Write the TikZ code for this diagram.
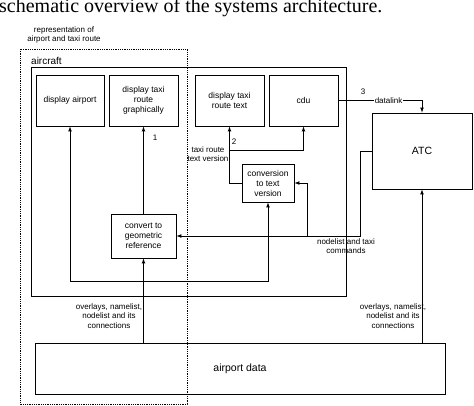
\documentclass[tikz,border=0pt]{standalone}
\usepackage{fontspec}
\setsansfont{Liberation Sans}
\newfontfamily\titlefont{Liberation Serif}
\usetikzlibrary{calc}

\begin{document}
\begin{tikzpicture}[x = 1pt, y = -1pt, font = \sffamily\fontsize{8.5}{10}\selectfont,
	block/.style = {draw, line width = 0.9pt, inner sep = 0pt, align = center},
	lbl/.style = {font = \sffamily\fontsize{8}{9.5}\selectfont, align = center, inner sep = 1pt},
	link/.style = {-latex, line width = 0.7pt}]
	\useasboundingbox (0,0) rectangle (474,406);
	\node [anchor = base west, inner sep = 0pt, font = \titlefont\fontsize{20}{24}\selectfont] (title) at (-1,13) {schematic overview of the systems architecture.};

	% representation of airport and taxi route
	\begin{scope}
		\draw [densely dotted, line width = 0.8pt] (20,49) rectangle (187,404);
		\node [lbl] (repr) at (64,35) {representation of\\airport and taxi route};
	\end{scope}

	% aircraft
	\begin{scope}
		\node [block, minimum width = 315pt, minimum height = 229pt] (aircraft) at (188.5,181.5) {};
		\node [anchor = west, font = \sffamily\fontsize{10}{12}\selectfont, inner sep = 0pt] (aircraftname) at (31,61) {aircraft};
		\node [block, minimum width = 68pt, minimum height = 51pt] (dispairport) at (70,100.5) {display airport};
		\node [block, minimum width = 69pt, minimum height = 51pt] (dispgraph) at (143.5,100.5) {display taxi\\route\\graphically};
		\node [block, minimum width = 69pt, minimum height = 51pt] (disptext) at (229.5,100.5) {display taxi\\route text};
		\node [block, minimum width = 69pt, minimum height = 51pt] (cdu) at (303.5,100.5) {cdu};
		\node [block, minimum width = 52pt, minimum height = 38pt] (conv) at (268,183) {conversion\\to text\\version};
		\node [block, minimum width = 65pt, minimum height = 44pt] (geo) at (143.5,236) {convert to\\geometric\\reference};
	\end{scope}

	\node [block, minimum width = 100pt, minimum height = 76pt, font = \sffamily\fontsize{10.5}{12}\selectfont] (atc) at (422,151) {ATC};
	\node [block, minimum width = 410pt, minimum height = 51pt, font = \sffamily\fontsize{10.5}{12}\selectfont] (data) at (240,368.5) {airport data};

	\begin{scope}[link]
		\coordinate (datasplit) at (143.5,281);
		\coordinate (cmdsplit) at (307,236);
		\coordinate (textsplit) at (229.5,150);

		\draw (geo.south |- data.north) -- (geo.south);
		\draw (datasplit) -| (dispairport.south);
		\draw (datasplit) -| (conv.south);
		\draw (geo.north) -- (dispgraph.south);
		\draw (conv.west) -| (disptext.south);
		\draw (textsplit) -| (cdu.south);
		\draw (atc.west) -- ++(-11,0) |- (geo.east);
		\draw (cmdsplit) |- (conv.east);
		\draw (cdu.east) -| node [pos = 0.3, fill = white, lbl] (datalink) {datalink} (atc.north);
		\draw (atc.south |- data.north) -- (atc.south);
	\end{scope}

	\begin{scope}[lbl]
		\node (one) at (155,138) {1};
		\node (two) at (234,142) {2};
		\node (three) at (363,92) {3};
		\node (textversion) at (208,154) {taxi route\\text version};
		\node (commands) at (346,246) {nodelist and taxi\\commands};
		\node (overlaysleft) at (109,316) {overlays, namelist,\\nodelist and its\\connections};
		\node (overlaysright) at (393,316) {overlays, namelist,\\nodelist and its\\connections};
	\end{scope}
\end{tikzpicture}
\end{document}
